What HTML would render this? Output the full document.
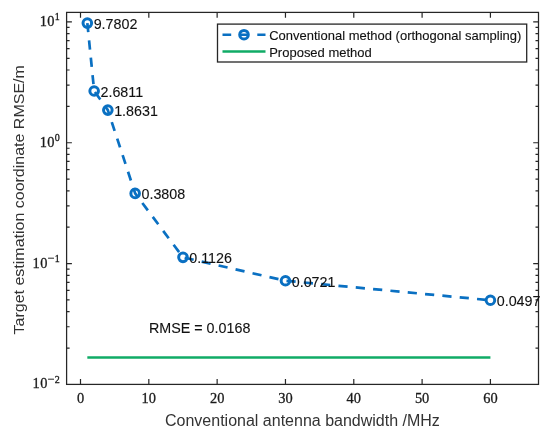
<!DOCTYPE html><html><head><meta charset="utf-8"><title>RMSE</title>
<style>html,body{margin:0;padding:0;background:#fff}svg{display:block}.t{font-family:"Liberation Serif",serif;font-size:14.4px;fill:#1a1a1a;stroke:#1a1a1a;stroke-width:0.3px}.s{font-size:10px}.m{font-size:12px}.d{font-family:"Liberation Sans",sans-serif;font-size:14.3px;fill:#111;stroke:#111;stroke-width:0.1px}.l{font-family:"Liberation Sans",sans-serif;font-size:16px;fill:#333}.g{font-family:"Liberation Sans",sans-serif;font-size:13.6px;fill:#111;stroke:#111;stroke-width:0.12px}</style></head><body>
<svg width="550" height="436" viewBox="0 0 550 436">
<rect width="550" height="436" fill="#fff"/>
<rect x="66.6" y="12.4" width="471.90" height="372.00" fill="none" stroke="#262626" stroke-width="1.25"/>
<path d="M80.50 384.4v-5.3M80.50 12.4v5.3M148.82 384.4v-5.3M148.82 12.4v5.3M217.14 384.4v-5.3M217.14 12.4v5.3M285.46 384.4v-5.3M285.46 12.4v5.3M353.78 384.4v-5.3M353.78 12.4v5.3M422.10 384.4v-5.3M422.10 12.4v5.3M490.42 384.4v-5.3M490.42 12.4v5.3M66.6 348.03h3.0M538.5 348.03h-3.0M66.6 326.75h3.0M538.5 326.75h-3.0M66.6 311.65h3.0M538.5 311.65h-3.0M66.6 299.94h3.0M538.5 299.94h-3.0M66.6 290.38h3.0M538.5 290.38h-3.0M66.6 282.29h3.0M538.5 282.29h-3.0M66.6 275.28h3.0M538.5 275.28h-3.0M66.6 269.10h3.0M538.5 269.10h-3.0M66.6 263.57h5.3M538.5 263.57h-5.3M66.6 227.20h3.0M538.5 227.20h-3.0M66.6 205.92h3.0M538.5 205.92h-3.0M66.6 190.82h3.0M538.5 190.82h-3.0M66.6 179.11h3.0M538.5 179.11h-3.0M66.6 169.55h3.0M538.5 169.55h-3.0M66.6 161.46h3.0M538.5 161.46h-3.0M66.6 154.45h3.0M538.5 154.45h-3.0M66.6 148.27h3.0M538.5 148.27h-3.0M66.6 142.74h5.3M538.5 142.74h-5.3M66.6 106.37h3.0M538.5 106.37h-3.0M66.6 85.09h3.0M538.5 85.09h-3.0M66.6 69.99h3.0M538.5 69.99h-3.0M66.6 58.28h3.0M538.5 58.28h-3.0M66.6 48.72h3.0M538.5 48.72h-3.0M66.6 40.63h3.0M538.5 40.63h-3.0M66.6 33.62h3.0M538.5 33.62h-3.0M66.6 27.44h3.0M538.5 27.44h-3.0M66.6 21.91h5.3M538.5 21.91h-5.3" stroke="#262626" stroke-width="1.2" fill="none"/>
<text class="t" x="80.50" y="403.4" text-anchor="middle">0</text>
<text class="t" x="148.82" y="403.4" text-anchor="middle">10</text>
<text class="t" x="217.14" y="403.4" text-anchor="middle">20</text>
<text class="t" x="285.46" y="403.4" text-anchor="middle">30</text>
<text class="t" x="353.78" y="403.4" text-anchor="middle">40</text>
<text class="t" x="422.10" y="403.4" text-anchor="middle">50</text>
<text class="t" x="490.42" y="403.4" text-anchor="middle">60</text>
<text class="t" x="60.2" y="388.40" text-anchor="end" letter-spacing="0.35">10<tspan class="m" dy="-5.9">−</tspan><tspan class="s">2</tspan></text>
<text class="t" x="60.2" y="267.57" text-anchor="end" letter-spacing="0.35">10<tspan class="m" dy="-5.9">−</tspan><tspan class="s">1</tspan></text>
<text class="t" x="60.2" y="146.74" text-anchor="end" letter-spacing="0.35">10<tspan class="s" dy="-5.9">0</tspan></text>
<text class="t" x="60.2" y="25.91" text-anchor="end" letter-spacing="0.35">10<tspan class="s" dy="-5.9">1</tspan></text>
<text class="l" x="302.45" y="426" text-anchor="middle">Conventional antenna bandwidth /MHz</text>
<text class="l" transform="translate(24.1 199.8) rotate(-90) scale(1 0.94)" text-anchor="middle">Target estimation coordinate RMSE/m</text>
<path d="M87.33 357.48H490.42" stroke="#10ab66" stroke-width="2.6" fill="none"/>
<polyline points="87.33,23.08 94.16,90.99 107.83,110.09 135.16,193.40 182.98,257.34 285.46,280.74 490.42,300.26" fill="none" stroke="#0a70c2" stroke-width="2.7" stroke-dasharray="9.2 8.2" stroke-linejoin="round"/>
<circle cx="87.33" cy="23.08" r="4.3" fill="none" stroke="#0a70c2" stroke-width="3"/>
<circle cx="94.16" cy="90.99" r="4.3" fill="none" stroke="#0a70c2" stroke-width="3"/>
<circle cx="107.83" cy="110.09" r="4.3" fill="none" stroke="#0a70c2" stroke-width="3"/>
<circle cx="135.16" cy="193.40" r="4.3" fill="none" stroke="#0a70c2" stroke-width="3"/>
<circle cx="182.98" cy="257.34" r="4.3" fill="none" stroke="#0a70c2" stroke-width="3"/>
<circle cx="285.46" cy="280.74" r="4.3" fill="none" stroke="#0a70c2" stroke-width="3"/>
<circle cx="490.42" cy="300.26" r="4.3" fill="none" stroke="#0a70c2" stroke-width="3"/>
<text class="d" x="93.63" y="29.03">9.7802</text>
<text class="d" x="100.46" y="96.94">2.6811</text>
<text class="d" x="114.13" y="116.04">1.8631</text>
<text class="d" x="141.46" y="199.35">0.3808</text>
<text class="d" x="189.28" y="263.29">0.1126</text>
<text class="d" x="291.76" y="286.69">0.0721</text>
<text class="d" x="496.72" y="306.21">0.0497</text>
<text class="d" x="149" y="332.6">RMSE = 0.0168</text>
<rect x="217.5" y="24.1" width="309.2" height="37.9" fill="#fff" stroke="#262626" stroke-width="1.3"/>
<path d="M222.5 34.7H265.5" stroke="#0a70c2" stroke-width="2.35" stroke-dasharray="8.7 8.7" fill="none"/>
<circle cx="244" cy="34.7" r="4.3" fill="none" stroke="#0a70c2" stroke-width="3"/>
<path d="M222.5 51.5H265.5" stroke="#10ab66" stroke-width="2.35" fill="none"/>
<text class="g" transform="translate(269.2 40.1) scale(0.956 1)">Conventional method (orthogonal sampling)</text>
<text class="g" transform="translate(269.2 57) scale(0.956 1)">Proposed method</text>
</svg></body></html>
